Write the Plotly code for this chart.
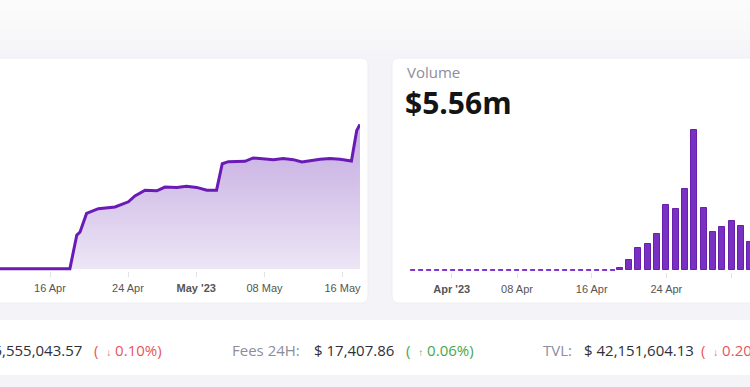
import plotly.graph_objects as go
from datetime import datetime, timedelta

# ---------------- data ----------------
tvl_dates = ["2023-04-10 21:00", "2023-04-18 01:00", "2023-04-18 18:00", "2023-04-19 02:00",
             "2023-04-19 18:00", "2023-04-20 23:00", "2023-04-22 16:00", "2023-04-23 04:00",
             "2023-04-24 01:00", "2023-04-24 17:00", "2023-04-25 18:00", "2023-04-26 23:00",
             "2023-04-27 19:00", "2023-04-29 00:00", "2023-04-30 00:00", "2023-05-01 01:00",
             "2023-05-02 02:00", "2023-05-03 02:00", "2023-05-03 16:00", "2023-05-04 07:00",
             "2023-05-06 00:00", "2023-05-06 20:00", "2023-05-07 21:00", "2023-05-08 22:00",
             "2023-05-09 22:00", "2023-05-10 23:00", "2023-05-11 20:00", "2023-05-12 16:00",
             "2023-05-13 17:00", "2023-05-14 17:00", "2023-05-15 18:00", "2023-05-16 22:00",
             "2023-05-17 11:00", "2023-05-17 19:00"]
tvl_values = [0.05, 0.1, 9.9, 10.8, 16.2, 17.6, 18.1, 18.6, 19.6, 21.3, 23.0, 22.8,
              23.9, 23.8, 24.1, 23.8, 23.0, 23.0, 30.7, 31.3, 31.4, 32.4, 32.1, 31.9,
              32.2, 31.9, 31.2, 31.6, 32.0, 32.2, 32.0, 31.5, 40.4, 42.15]

vol_dates = ["2023-04-19", "2023-04-20", "2023-04-21", "2023-04-22", "2023-04-23",
             "2023-04-24", "2023-04-25", "2023-04-26", "2023-04-27", "2023-04-28",
             "2023-04-29", "2023-04-30", "2023-05-01", "2023-05-02", "2023-05-03"]
vol_values = [0.02, 0.10, 0.22, 0.26, 0.36, 0.65, 0.61, 0.81, 1.40, 0.62,
              0.38, 0.43, 0.49, 0.44, 0.28]
vol_zero_span = ["2023-03-27 13:00", "2023-04-18 12:00"]
vol_zero_vals = [0, 0]

left_tickvals = ["2023-04-16", "2023-04-24", "2023-05-01", "2023-05-08", "2023-05-16"]
left_ticktext = ["16 Apr", "24 Apr", "<b>May '23</b>", "08 May", "16 May"]
right_tickvals = ["2023-04-01", "2023-04-08", "2023-04-16", "2023-04-24", "2023-05-01"]
right_ticktext = ["<b>Apr '23</b>", "08 Apr", "16 Apr", "24 Apr", "<b>May '23</b>"]

volume_title = "Volume"
volume_big = "$5.56m"

# ---------------- layout helpers ----------------
W, H = 750, 387


def px(x):
    return x / W


def py(y):
    return 1 - y / H


def date_at(anchor, anchor_px, px_per_day, x):
    d = datetime.fromisoformat(anchor)
    return (d + timedelta(days=(x - anchor_px) / px_per_day)).strftime("%Y-%m-%d %H:%M:%S")


# left chart: 16 Apr at x=50, 9.75 px/day, plot area x 0..360
L0, L1 = 0, 360
left_range = [date_at("2023-04-16", 50, 9.75, L0), date_at("2023-04-16", 50, 9.75, L1)]
# right chart: 01 Apr at x=451.7, 9.333 px/day, plot area x 405..750
R0, R1 = 405, 750
right_range = [date_at("2023-04-01", 451.7, 9.333, R0), date_at("2023-04-01", 451.7, 9.333, R1)]

# vertical scales (value per pixel)
L_PER_PX = 42.15 / 144.5
R_PER_PX = 0.01

fig = go.Figure()

purple_line = "#6a1bb5"

fig.add_trace(go.Scatter(
    x=tvl_dates, y=tvl_values, mode="lines",
    line=dict(color=purple_line, width=3),
    fill="tozeroy",
    fillgradient=dict(type="vertical",
                      colorscale=[[0, "#ede6f6"], [0.6, "#d3c0e8"], [1, "#c5aee2"]]),
    xaxis="x", yaxis="y", hoverinfo="skip", showlegend=False,
))

fig.add_trace(go.Scatter(
    x=vol_zero_span, y=vol_zero_vals, mode="lines",
    line=dict(color="#8236cc", width=2, dash="5px,3px"),
    xaxis="x2", yaxis="y2", hoverinfo="skip", showlegend=False,
))

fig.add_trace(go.Bar(
    x=vol_dates, y=vol_values,
    width=0.64 * 86400000,
    marker=dict(color="#7b30c4", line=dict(color="#6620ab", width=1)),
    xaxis="x2", yaxis="y2", hoverinfo="skip", showlegend=False,
))


def rrect(x0, y0, x1, y1, r):
    X0, X1 = px(x0), px(x1)
    Y0, Y1 = py(y0), py(y1)
    rx, ry = r / W, r / H
    return (f"M{X0+rx},{Y0} L{X1-rx},{Y0} Q{X1},{Y0} {X1},{Y0-ry} "
            f"L{X1},{Y1+ry} Q{X1},{Y1} {X1-rx},{Y1} L{X0+rx},{Y1} "
            f"Q{X0},{Y1} {X0},{Y1+ry} L{X0},{Y0-ry} Q{X0},{Y0} {X0+rx},{Y0} Z")


shapes = []
# top gradient band
top_cols = ["#fbfbfb", "#fafafa", "#f9f9fa", "#f8f7f9", "#f6f5f8", "#f5f4f8"]
for i, c in enumerate(top_cols):
    shapes.append(dict(type="rect", xref="paper", yref="paper", x0=0, x1=1,
                       y0=py(i * 10 + 10), y1=py(i * 10), fillcolor=c, line_width=0, layer="below"))
# cards
shapes.append(dict(type="path", xref="paper", yref="paper", path=rrect(-20, 58, 368, 303, 7),
                   fillcolor="white", line=dict(color="#efeef3", width=1), layer="below"))
shapes.append(dict(type="path", xref="paper", yref="paper", path=rrect(392, 58, 780, 303, 7),
                   fillcolor="white", line=dict(color="#efeef3", width=1), layer="below"))
# footer band
shapes.append(dict(type="rect", xref="paper", yref="paper", x0=0, x1=1, y0=py(375), y1=py(320),
                   fillcolor="white", line_width=0, layer="below"))

FONT = "Open Sans"
dark = "#2f2f3a"
gray = "#8d8d9a"
red = "#e8555f"
green = "#45a84e"

annotations = [
    dict(text=volume_title, x=px(405), y=py(72), xanchor="left", yanchor="middle",
         font=dict(family=FONT, size=15, color=gray)),
    dict(text=f"<b>{volume_big}</b>", x=px(403), y=py(102), xanchor="left", yanchor="middle",
         font=dict(family=FONT, size=30, color="#141414")),
]

FS = 15
ARROW = "<span style='font-size:10px'>{}</span>"
fy = py(350)
annotations += [
    dict(text="$ 5,555,043.57", x=px(84), y=fy, xanchor="right", yanchor="middle",
         font=dict(family=FONT, size=FS, color=dark)),
    dict(text="(  " + ARROW.format("↓") + " 0.10%)", x=px(92), y=fy, xanchor="left",
         yanchor="middle", font=dict(family=FONT, size=FS, color=red)),
    dict(text="Fees 24H:", x=px(230), y=fy, xanchor="left", yanchor="middle",
         font=dict(family=FONT, size=FS, color=gray)),
    dict(text="$ 17,407.86", x=px(312), y=fy, xanchor="left", yanchor="middle",
         font=dict(family=FONT, size=FS, color=dark)),
    dict(text="(  " + ARROW.format("↑") + " 0.06%)", x=px(404), y=fy, xanchor="left",
         yanchor="middle", font=dict(family=FONT, size=FS, color=green)),
    dict(text="TVL:", x=px(541), y=fy, xanchor="left", yanchor="middle",
         font=dict(family=FONT, size=FS, color=gray)),
    dict(text="$ 42,151,604.13", x=px(582), y=fy, xanchor="left", yanchor="middle",
         font=dict(family=FONT, size=FS, color=dark)),
    dict(text="(  " + ARROW.format("↓") + " 0.20%)", x=px(699), y=fy, xanchor="left",
         yanchor="middle", font=dict(family=FONT, size=FS, color=red)),
]
for a in annotations:
    a.update(xref="paper", yref="paper", showarrow=False)

tickfont = dict(family="Liberation Sans, Arial", size=11, color="#555555")
common_x = dict(type="date", showgrid=False, zeroline=False, showline=False,
                ticks="outside", ticklen=5, tickcolor="#e2e2e2", tickwidth=1,
                ticklabelstandoff=2,
                tickfont=tickfont, fixedrange=True)
common_y = dict(showgrid=False, zeroline=False, showline=False, showticklabels=False,
                ticks="", fixedrange=True)

fig.update_layout(
    width=W, height=H, margin=dict(l=0, r=0, t=0, b=0),
    paper_bgcolor="#f4f3f7", plot_bgcolor="rgba(0,0,0,0)",
    shapes=shapes, annotations=annotations, bargap=0,
    xaxis=dict(domain=[px(L0), px(L1)], range=left_range, tickmode="array",
               tickvals=left_tickvals, ticktext=left_ticktext, anchor="y", **common_x),
    yaxis=dict(domain=[py(271), py(110)], range=[-2 * L_PER_PX, 159 * L_PER_PX],
               anchor="x", **common_y),
    xaxis2=dict(domain=[px(R0), px(R1)], range=right_range, tickmode="array",
                tickvals=right_tickvals, ticktext=right_ticktext, anchor="y2", **common_x),
    yaxis2=dict(domain=[py(272), py(110)], range=[-2 * R_PER_PX, 160 * R_PER_PX],
                anchor="x2", **common_y),
)

fig.write_html("out.html", config={"displayModeBar": False},
               post_script="document.body.style.margin='0';document.body.style.overflow='hidden';")
